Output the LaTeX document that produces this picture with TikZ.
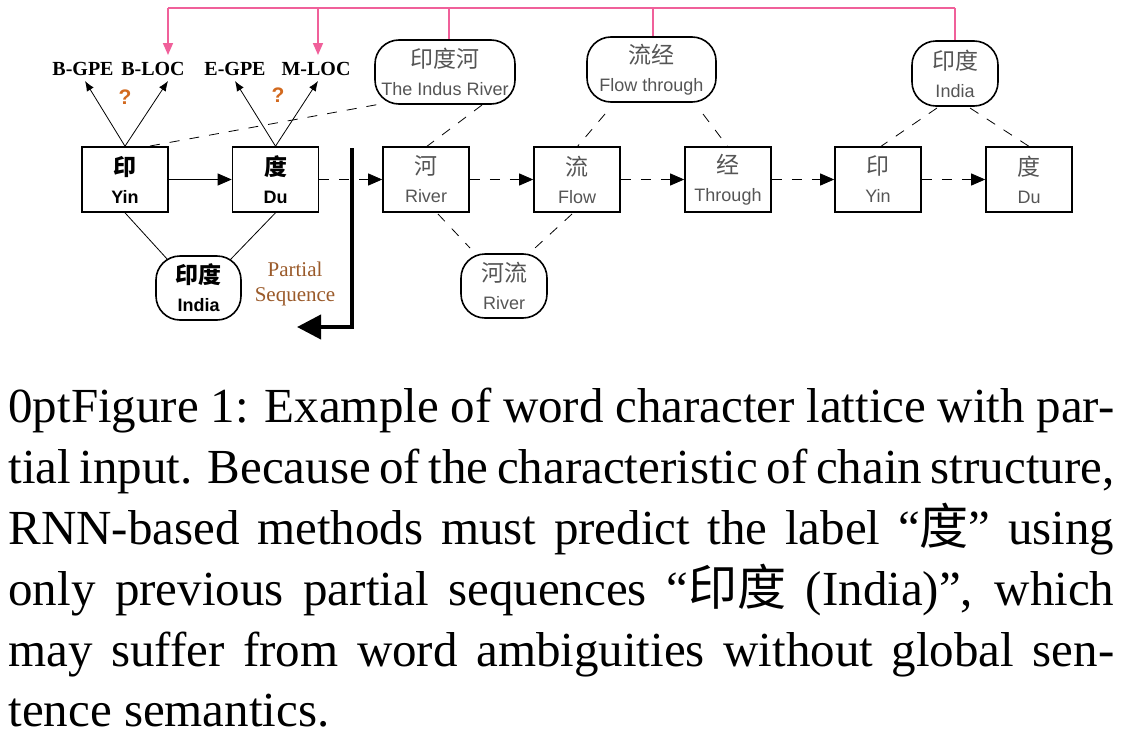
\documentclass[tikz,border=0pt]{standalone}
\usepackage{fontspec}
\setmainfont{Liberation Serif}
\setsansfont{Liberation Sans}
\newfontfamily\cjk{Noto Sans CJK SC}
\usetikzlibrary{arrows.meta}
\definecolor{pinkl}{HTML}{F0609A}
\definecolor{brownt}{HTML}{9A5A2A}
\definecolor{qorange}{HTML}{D2691E}
\definecolor{grayt}{HTML}{555555}
\tikzset{
 box/.style={draw,thick,minimum width=43pt,minimum height=32.5pt,inner sep=0pt,align=center},
 rbox/.style={draw,thick,rounded corners=12pt,inner sep=0pt,align=center},
 lab/.style={font=\rmfamily\bfseries\fontsize{10}{11}\selectfont},
 qm/.style={text=qorange,font=\sffamily\bfseries\fontsize{10.5}{11}\selectfont},
 dsh/.style={dash pattern=on 5pt off 5pt,thin},
 dar/.style={dash pattern=on 5pt off 5pt,thin,-{Triangle[length=7pt,width=6pt]}},
 sar/.style={thin,-{Triangle[length=7pt,width=6pt]}},
 tar/.style={thin,-{Latex[length=5pt,width=4pt]}},
 pk/.style={pinkl,thick},
}
\newcommand{\mybx}[2]{{\cjk\fontsize{11.5}{12}\selectfont #1}\\[2pt]{\sffamily\fontsize{9}{9.5}\selectfont #2}}
\begin{document}
\begin{tikzpicture}[x=0.5pt,y=-0.5pt]
\useasboundingbox (0,0) rectangle (1134,739);
% boxes
\node[box,font=\bfseries] (a) at (125,179.5) {\mybx{印}{Yin}};
\node[box,font=\bfseries] (b) at (275.5,179.5) {\mybx{度}{Du}};
\begin{scope}[text=grayt]
\node[box] (c) at (426,179.5) {\mybx{河}{River}};
\node[box] (d) at (577,179.5) {\mybx{流}{Flow}};
\node[box] (e) at (728,179.5) {\mybx{经}{Through}};
\node[box] (f) at (878,179.5) {\mybx{印}{Yin}};
\node[box] (g) at (1029,179.5) {\mybx{度}{Du}};
\node[rbox,minimum width=70pt,minimum height=32pt] (h) at (445,72) {\mybx{印度河}{The Indus River}};
\node[rbox,minimum width=64.5pt,minimum height=32.5pt] (i) at (651.5,69.5) {\mybx{流经}{Flow through}};
\node[rbox,minimum width=43pt,minimum height=32.5pt] (j) at (955,73.5) {\mybx{印度}{India}};
\node[rbox,minimum width=43pt,minimum height=32pt] (k) at (504,286) {\mybx{河流}{River}};
\end{scope}
\node[rbox,font=\bfseries,minimum width=42.5pt,minimum height=32pt] (l) at (198.5,288) {\mybx{印度}{India}};
% labels
\node[lab] (t1) at (83,69) {B-GPE};
\node[lab] (t2) at (153,69) {B-LOC};
\node[lab] (t3) at (235,69) {E-GPE};
\node[lab] (t4) at (316,69) {M-LOC};
\node[qm] (q1) at (125,97) {?};
\node[qm] (q2) at (278,95) {?};
\draw[tar] (a.north) -- (85,81);
\draw[tar] (a.north) -- (168,81);
\draw[tar] (b.north) -- (235,81);
\draw[tar] (b.north) -- (318,81);
% pink
\coordinate (p1) at (168,8);
\coordinate (p2) at (318,8);
\coordinate (p3) at (449,8);
\coordinate (p4) at (653,8);
\coordinate (p5) at (955,8);
\draw[pk] (p1) -- (p5);
\draw[pk,-{Triangle[length=6pt,width=5pt]}] (p1) -- (168,55);
\draw[pk,-{Triangle[length=6pt,width=5pt]}] (p2) -- (318,55);
\draw[pk] (p3) -- (p3 |- h.north);
\draw[pk] (p4) -- (p4 |- i.north);
\draw[pk] (p5) -- (j.north);
% chain
\draw[sar] (a) -- (b);
\draw[dar] (b) -- (c);
\draw[dar] (c) -- (d);
\draw[dar] (d) -- (e);
\draw[dar] (e) -- (f);
\draw[dar] (f) -- (g);
% lattice
\draw[dsh] (150,146) -- (386,103);
\draw[dsh] (482,105) -- (426,147);
\draw[dsh] (605,114) -- (577,147);
\draw[dsh] (703,114) -- (728,147);
\draw[dsh] (937,108) -- (880,147);
\draw[dsh] (970,108) -- (1030,147);
\draw[dsh] (438,214) -- (470,248);
\draw[dsh] (572,214) -- (535,248);
\draw[thin] (a.south) -- (168,260);
\draw[thin] (b.south) -- (230,260);
% partial
\draw[line width=2pt,-{Triangle[length=12pt,width=12pt]}] (352,148) -- (352,327) -- (297,327);
\node[text=brownt,font=\rmfamily\fontsize{10.5}{12.5}\selectfont,align=center] (ps) at (295,284) {Partial\\Sequence};
% caption
\node[anchor=north west,text width=553pt,align=justify,inner sep=0pt,font=\rmfamily\fontsize{24.5}{30.4}\selectfont\hyphenpenalty=10000\exhyphenpenalty=10000] (cap) at (8,388)
{Figure 1: Example of word character lattice with partial input. Because of the characteristic of chain structure, RNN-based methods must predict the label “{\cjk 度}” using only previous partial sequences “{\cjk 印度} (India)”, which may suffer from word ambiguities without global sentence semantics.};
\end{tikzpicture}
\end{document}
